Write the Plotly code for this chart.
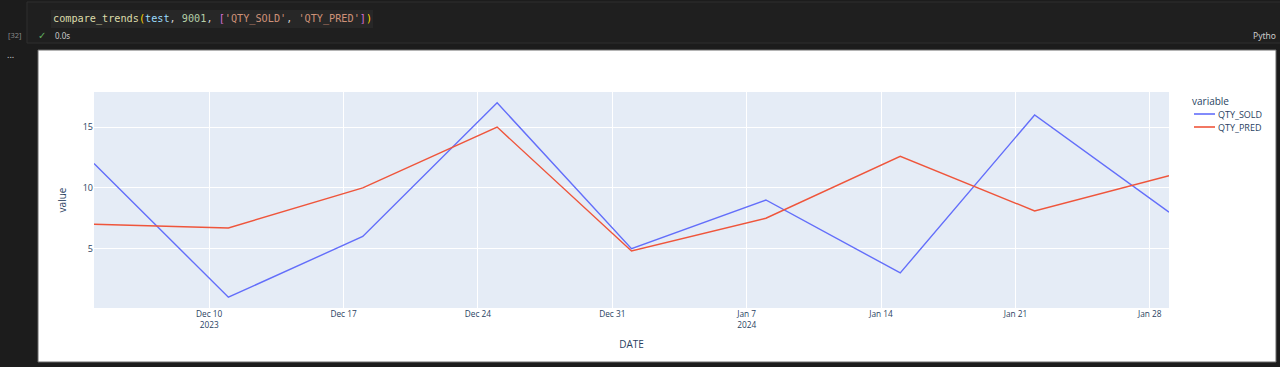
import plotly.graph_objects as go

# ---- data ----
dates = ["2023-12-04", "2023-12-11", "2023-12-18", "2023-12-25", "2024-01-01",
         "2024-01-08", "2024-01-15", "2024-01-22", "2024-01-29"]
qty_sold = [12, 1, 6, 17, 5, 9, 3, 16, 8]
qty_pred = [7.0, 6.7, 10.0, 15.0, 4.8, 7.5, 12.6, 8.1, 11.0]
series_names = ["QTY_SOLD", "QTY_PRED"]
series_colors = ["#636efa", "#EF553B"]
legend_title = "variable"

W, H = 1280, 367
L, R, T, B = 94, 1169, 92, 308  # plot area in pixels


def px(x):
    return (x - L) / (R - L)


def py(y):
    return (B - y) / (B - T)


fig = go.Figure()
for name, vals, col in zip(series_names, [qty_sold, qty_pred], series_colors):
    fig.add_trace(go.Scatter(x=dates, y=vals, mode="lines", name=name,
                             line=dict(color=col, width=1.4), showlegend=False))

shapes = [
    # code cell area
    dict(type="rect", xref="paper", yref="paper", x0=px(27), x1=px(1290), y0=py(43), y1=py(2),
         fillcolor="#1f1f1f", line=dict(color="#2f2f2f", width=1), layer="below"),
    dict(type="rect", xref="paper", yref="paper", x0=px(51), x1=px(373), y0=py(28), y1=py(10),
         fillcolor="#272727", line=dict(width=0), layer="below"),
    # white output card
    dict(type="rect", xref="paper", yref="paper", x0=px(38), x1=px(1276), y0=py(362), y1=py(50),
         fillcolor="white", line=dict(color="#6a6a6a", width=1), layer="below"),
    # plot background on top of the card
    dict(type="rect", xref="paper", yref="paper", x0=0, x1=1, y0=0, y1=1,
         fillcolor="#E5ECF6", line=dict(width=0), layer="below"),
]

code = ('<span style="color:#DCDCAA">compare_trends</span>'
        '<span style="color:#FFD700">(</span>'
        '<span style="color:#9CDCFE">test</span>'
        '<span style="color:#CCCCCC">, </span>'
        '<span style="color:#B5CEA8">9001</span>'
        '<span style="color:#CCCCCC">, </span>'
        '<span style="color:#DA70D6">[</span>'
        '<span style="color:#CE9178">\'QTY_SOLD\'</span>'
        '<span style="color:#CCCCCC">, </span>'
        '<span style="color:#CE9178">\'QTY_PRED\'</span>'
        '<span style="color:#DA70D6">]</span>'
        '<span style="color:#FFD700">)</span>')


def ann(text, x, y, size, color, xanchor="left", family="Noto Sans"):
    return dict(text=text, x=px(x), y=py(y), xref="paper", yref="paper",
                xanchor=xanchor, yanchor="middle", showarrow=False,
                font=dict(size=size, color=color, family=family))


annotations = [
    ann(code, 51, 19, 10.2, "#CCCCCC", family="DejaVu Sans Mono"),
    ann("[32]", 6, 35, 7.5, "#8a8a8a"),
    ann("✓", 36, 35, 10, "#5fae5f"),
    ann("0.0s", 53, 35, 8, "#cccccc"),
    ann("Pytho", 1278, 36, 8.5, "#cccccc", xanchor="right"),
    ann("...", 5, 54, 9, "#cccccc"),
    # legend
    ann(legend_title, 1190, 101, 10, "#2a3f5f", family="Open Sans"),
]

# custom compact legend built from the series names / colours
for i, (name, col) in enumerate(zip(series_names, series_colors)):
    yy = 114 + 13 * i
    shapes.append(dict(type="line", xref="paper", yref="paper",
                       x0=px(1194), x1=px(1215), y0=py(yy), y1=py(yy),
                       line=dict(color=col, width=1.6)))
    annotations.append(ann(name, 1216, yy, 9, "#2a3f5f", family="Open Sans"))

fig.update_layout(
    width=W, height=H,
    margin=dict(l=L, r=W - R, t=T, b=H - B, pad=0),
    paper_bgcolor="#1c1c1c",
    plot_bgcolor="rgba(0,0,0,0)",
    font=dict(family="Open Sans", size=8, color="#2a3f5f"),
    shapes=shapes,
    annotations=annotations,
    showlegend=False,
    xaxis=dict(title=dict(text="DATE", font=dict(size=10), standoff=11),
               gridcolor="white", gridwidth=1, showline=False, zeroline=False,
               ticks="", tickfont=dict(size=8.3)),
    yaxis=dict(title=dict(text="value", font=dict(size=10), standoff=14),
               gridcolor="white", gridwidth=1, zeroline=False,
               ticks="", tickfont=dict(size=9)),
)

fig.write_html(
    "out.html",
    config={"displayModeBar": False},
    post_script="document.body.style.margin='0';document.body.style.background='#1c1c1c';",
)
